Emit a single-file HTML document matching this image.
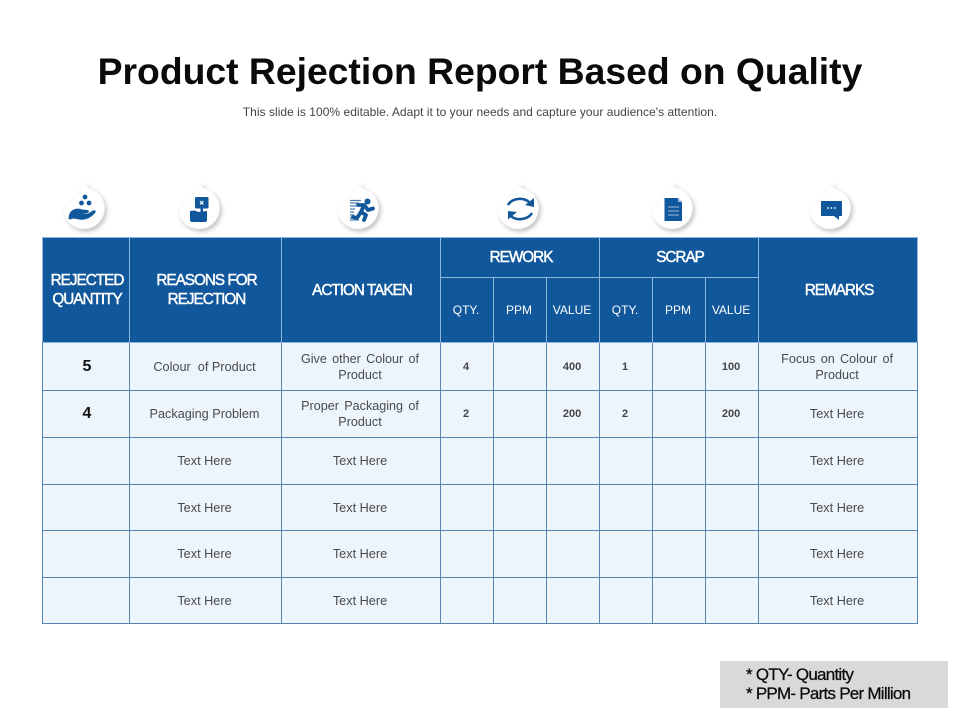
<!DOCTYPE html>
<html lang="en">
<head>
<meta charset="utf-8">
<title>Product Rejection Report Based on Quality</title>
<style>
html,body{margin:0;padding:0;background:#fff;}
#slide{position:relative;width:960px;height:720px;overflow:hidden;background:#fff;font-family:"Liberation Sans",Arial,sans-serif;}
#title{position:absolute;left:0;top:48px;width:960px;text-align:center;font-size:37.3px;line-height:46px;font-weight:bold;color:#0a0a0a;white-space:nowrap;}
#subtitle{position:absolute;left:0;top:104px;width:960px;text-align:center;font-size:12px;line-height:16px;letter-spacing:.035px;color:#444;white-space:nowrap;}
#report{position:absolute;left:42px;top:237px;width:875px;height:386px;border-collapse:collapse;table-layout:fixed;}
#report td,#report th{padding:0 6px 0 4px;box-sizing:border-box;text-align:center;vertical-align:middle;overflow:hidden;}
#report th{background:#11579b;color:#fff;border:1.5px solid #8db6da;font-weight:normal;}
#report th.m{font-size:15.3px;line-height:19px;letter-spacing:-1px;-webkit-text-stroke:.45px #fff;padding:0 0 0 2px;}
#report th.s{font-size:12px;padding:0 6px 0 4px;}
#report td{background:#edf5fc;color:#4a4a4a;border:1.5px solid #5585b0;font-size:12.7px;line-height:16px;}
#report td.w{font-size:12.6px;word-spacing:1.8px;}
#report td.n{font-size:16px;font-weight:bold;color:#111;padding:0 4px 0 6px;}
#report td.v{font-size:11px;font-weight:bold;color:#444;}
#note{position:absolute;left:720px;top:661px;width:228px;height:47px;background:#d9d9d9;}
#note div{position:absolute;left:26px;font-size:17px;line-height:18px;letter-spacing:-.75px;color:#0a0a0a;-webkit-text-stroke:.25px #0a0a0a;white-space:nowrap;}
.ic{position:absolute;top:180px;width:60px;height:56px;overflow:visible;}
.ic>path:first-child{stroke:#f4f4f4;stroke-width:.6;}
</style>
</head>
<body>
<div id="slide">
<div id="title">Product Rejection Report Based on Quality</div>
<div id="subtitle">This slide is 100% editable. Adapt it to your needs and capture your audience's attention.</div>

<svg width="0" height="0" style="position:absolute">
<defs>
<filter id="sh" x="-40%" y="-40%" width="190%" height="190%"><feDropShadow dx="2" dy="2.5" stdDeviation="2.2" flood-color="#000" flood-opacity=".24"/></filter>
</defs>
</svg>

<svg class="ic" style="left:54px" viewBox="0 0 60 56">
<path d="M33 3 L9.500 30 A20.500 20.500 0 1 0 33 8Z" fill="#fff" filter="url(#sh)"/>
<g fill="#11579b"><circle cx="31" cy="17" r="2.400"/><circle cx="27.500" cy="23" r="2.400"/><circle cx="35" cy="23" r="2.400"/>
<path d="M15 35 C17 29 23 27.500 28 29.500 L33 30 C35.500 30 35.500 32.500 33 33 L28 33.500 L34 33.500 L39 30.500 C41.500 29.500 42.500 31.500 41 33 C37 37.500 32 40.500 25 39.500 L20 38.500 C18 38.500 16.500 40 14.500 39Z"/></g>
</svg>

<svg class="ic" style="left:169px" viewBox="0 0 60 56">
<path d="M33 3 L9.500 30 A20.500 20.500 0 1 0 33 8Z" fill="#fff" filter="url(#sh)"/>
<g fill="#11579b"><rect x="26" y="17" width="13.500" height="11.500" rx="1.200"/><rect x="31.500" y="28" width="2.500" height="4"/><path d="M21 31 L26 30.500 L29 32 L38 31 L38 40 Q38 42 36 42 L23 42 Q21 42 21 40Z"/></g>
<path d="M31 21 l3.400 3.400 m0 -3.400 l-3.400 3.400" stroke="#fff" stroke-width="1.200"/>
</svg>

<svg class="ic" style="left:328px" viewBox="0 0 60 56">
<path d="M33 3 L9.500 30 A20.500 20.500 0 1 0 33 8Z" fill="#fff" filter="url(#sh)"/>
<g stroke="#4f80ad" stroke-width="1.300"><path d="M22 20.500 H33 M22 23 H31 M22 26 H28 M22 29 H27 M22 32 H26 M22 35 H26 M22 38 H27 M22 40 H31"/></g>
<g fill="none" stroke="#11579b" stroke-width="3.800" stroke-linecap="round" stroke-linejoin="round"><path d="M30 25 L36 25 L33 32 L38 35 L36 40"/><path d="M33 32 L29 38 L25 37"/><path d="M37 26 L40 30 L45 28.500"/></g>
<circle cx="39.500" cy="21.500" r="3" fill="#11579b"/>
</svg>

<svg class="ic" style="left:488px" viewBox="0 0 60 56">
<path d="M33 3 L9.500 30 A20.500 20.500 0 1 0 33 8Z" fill="#fff" filter="url(#sh)"/>
<g fill="none" stroke="#11579b" stroke-width="2.600"><path d="M20 25 C24 18 35 17 41 22"/><path d="M44 33 C40 40 28 41 23 36"/></g>
<g fill="#11579b"><path d="M46 18 L46 27 L37 25Z"/><path d="M20 39.500 L20 31 L29 32Z"/></g>
</svg>

<svg class="ic" style="left:642px" viewBox="0 0 60 56">
<path d="M33 3 L9.500 30 A20.500 20.500 0 1 0 33 8Z" fill="#fff" filter="url(#sh)"/>
<path d="M22.500 18 H36 L40 22 V41 H22.500Z" fill="#11579b"/>
<path d="M36 18 L40 22 H36Z" fill="#9dbcd9"/>
<g stroke="#9dbcd9" stroke-width=".9"><path d="M26 27 H37 M26 31 H37 M26 35 H37"/></g>
</svg>

<svg class="ic" style="left:800px" viewBox="0 0 60 56">
<path d="M33 3 L9.500 30 A20.500 20.500 0 1 0 33 8Z" fill="#fff" filter="url(#sh)"/>
<path d="M21 21 H42 V36 H39 V40 L34 36 H21Z" fill="#11579b"/>
<g fill="#fff"><circle cx="28" cy="28" r=".9"/><circle cx="31.500" cy="28" r=".9"/><circle cx="35" cy="28" r=".9"/></g>
</svg>

<table id="report">
<colgroup><col style="width:87px"><col style="width:152px"><col style="width:159px"><col style="width:53px"><col style="width:53px"><col style="width:53px"><col style="width:53px"><col style="width:53px"><col style="width:53px"><col style="width:159px"></colgroup>
<tr style="height:40px">
<th class="m" rowspan="2">REJECTED QUANTITY</th>
<th class="m" rowspan="2" style="padding:0 18px 0 20px">REASONS FOR REJECTION</th>
<th class="m" rowspan="2">ACTION TAKEN</th>
<th class="m" colspan="3">REWORK</th>
<th class="m" colspan="3">SCRAP</th>
<th class="m" rowspan="2">REMARKS</th>
</tr>
<tr style="height:65px">
<th class="s">QTY.</th>
<th class="s">PPM</th>
<th class="s" style="padding:0 5px 0 3px">VALUE</th>
<th class="s">QTY.</th>
<th class="s">PPM</th>
<th class="s" style="padding:0 5px 0 3px">VALUE</th>
</tr>
<tr style="height:48px">
<td class="n">5</td><td>Colour &nbsp;of Product</td><td class="w" style="padding:0 14px 0 12px">Give other Colour of Product</td><td class="v">4</td><td></td><td class="v">400</td><td class="v">1</td><td></td><td class="v">100</td><td class="w" style="padding:0 22px 0 20px">Focus on Colour of Product</td>
</tr>
<tr style="height:47px">
<td class="n">4</td><td>Packaging Problem</td><td class="w" style="padding:0 14px 0 12px">Proper Packaging of Product</td><td class="v">2</td><td></td><td class="v">200</td><td class="v">2</td><td></td><td class="v">200</td><td>Text Here</td>
</tr>
<tr style="height:47px">
<td></td><td>Text Here</td><td>Text Here</td><td></td><td></td><td></td><td></td><td></td><td></td><td>Text Here</td>
</tr>
<tr style="height:46px">
<td></td><td>Text Here</td><td>Text Here</td><td></td><td></td><td></td><td></td><td></td><td></td><td>Text Here</td>
</tr>
<tr style="height:47px">
<td></td><td>Text Here</td><td>Text Here</td><td></td><td></td><td></td><td></td><td></td><td></td><td>Text Here</td>
</tr>
<tr style="height:46px">
<td></td><td>Text Here</td><td>Text Here</td><td></td><td></td><td></td><td></td><td></td><td></td><td>Text Here</td>
</tr>
</table>

<div id="note">
<div style="top:5px">* QTY- Quantity</div>
<div style="top:24px">* PPM- Parts Per Million</div>
</div>
</div>
</body>
</html>
